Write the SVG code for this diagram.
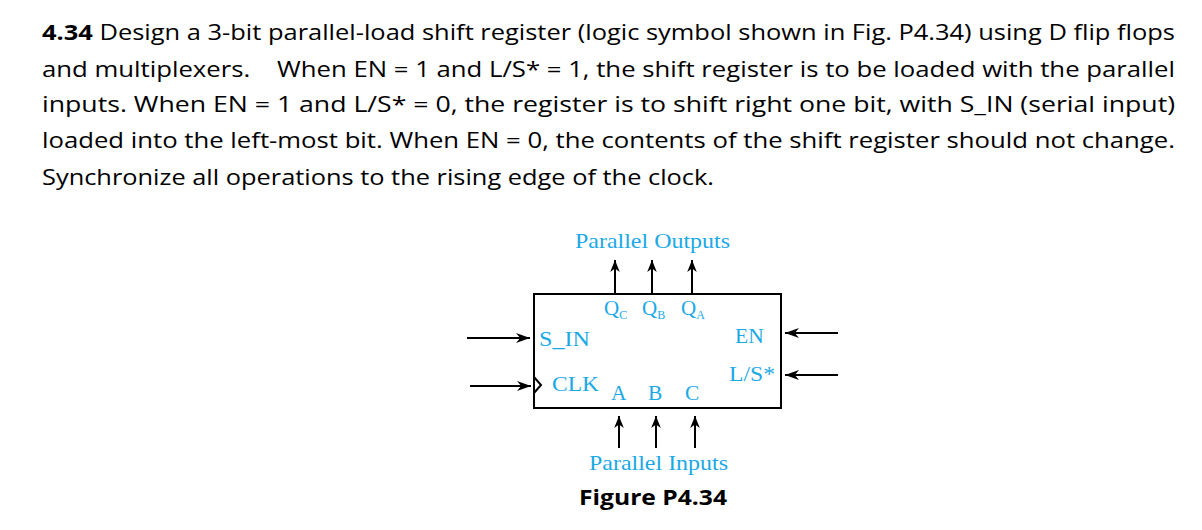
<svg xmlns="http://www.w3.org/2000/svg" width="1202" height="530" viewBox="0 0 1202 530">
<style>
.p{font-family:"Open Sans","Liberation Sans",sans-serif;font-size:22px;fill:#000}
.s{font-family:"Liberation Serif",serif;fill:#1ba9e6}
.w{stroke:#000;stroke-width:2;fill:none}
</style>
<defs><marker id="a" viewBox="0 0 10 10" refX="10" refY="5" markerWidth="12" markerHeight="12" markerUnits="userSpaceOnUse" orient="auto"><path d="M0,1L10,5L0,9L3,5Z" fill="#000"/></marker>
<marker id="b" viewBox="0 0 10 10" refX="10" refY="5" markerWidth="14" markerHeight="14" markerUnits="userSpaceOnUse" orient="auto"><path d="M0,1.5L10,5L0,8.5L3,5Z" fill="#000"/></marker></defs>
<rect width="1202" height="530" fill="#fff"/>
<g id="problem">
<text class="p" x="42" y="40" textLength="1133" lengthAdjust="spacingAndGlyphs"><tspan font-weight="bold">4.34</tspan> Design a 3-bit parallel-load shift register (logic symbol shown in Fig. P4.34) using D flip flops</text>
<text class="p" x="42" y="77" textLength="1133" lengthAdjust="spacingAndGlyphs" xml:space="preserve">and multiplexers.    When EN = 1 and L/S* = 1, the shift register is to be loaded with the parallel</text>
<text class="p" x="42" y="112" textLength="1133" lengthAdjust="spacingAndGlyphs">inputs. When EN = 1 and L/S* = 0, the register is to shift right one bit, with S_IN (serial input)</text>
<text class="p" x="42" y="148" textLength="1133" lengthAdjust="spacingAndGlyphs">loaded into the left-most bit. When EN = 0, the contents of the shift register should not change.</text>
<text class="p" x="42" y="185" textLength="672" lengthAdjust="spacingAndGlyphs">Synchronize all operations to the rising edge of the clock.</text>
</g>
<g id="register">
<rect x="534" y="294" width="247" height="114" class="w" stroke-width="2.5"/>
<path d="M534,377L541,385L534,393" class="w"/>
<text class="s" x="575" y="248" font-size="21.5" textLength="155" lengthAdjust="spacingAndGlyphs">Parallel Outputs</text>
<text class="s" x="604" y="315" font-size="21">Q<tspan font-size="12" dy="4">C</tspan></text>
<text class="s" x="642" y="315" font-size="21">Q<tspan font-size="12" dy="4">B</tspan></text>
<text class="s" x="681" y="315" font-size="21">Q<tspan font-size="12" dy="4">A</tspan></text>
<text class="s" x="539" y="346" font-size="21.5" textLength="51" lengthAdjust="spacingAndGlyphs">S_IN</text>
<text class="s" x="552" y="391" font-size="21.5" textLength="47" lengthAdjust="spacingAndGlyphs">CLK</text>
<text class="s" x="611" y="400" font-size="21.5">A</text>
<text class="s" x="648" y="400" font-size="21.5">B</text>
<text class="s" x="685" y="400" font-size="21.5">C</text>
<text class="s" x="735" y="343" font-size="21.5">EN</text>
<text class="s" x="729" y="381" font-size="20" textLength="46" lengthAdjust="spacingAndGlyphs">L/S*</text>
<text class="s" x="589" y="470" font-size="21.5" textLength="139" lengthAdjust="spacingAndGlyphs">Parallel Inputs</text>
<text x="579" y="505" font-family="'Open Sans','Liberation Sans',sans-serif" font-size="21" font-weight="bold" textLength="148" lengthAdjust="spacingAndGlyphs">Figure P4.34</text>
</g>
<g id="connectors" class="w">
<path d="M615,293V260" marker-end="url(#a)"/>
<path d="M652,293V260" marker-end="url(#a)"/>
<path d="M692,293V260" marker-end="url(#a)"/>
<path d="M619,448V416" marker-end="url(#a)"/>
<path d="M656,448V416" marker-end="url(#a)"/>
<path d="M695,448V416" marker-end="url(#a)"/>
<path d="M467,338H530" marker-end="url(#b)"/>
<path d="M470,386H531" marker-end="url(#b)"/>
<path d="M838,333H785" marker-end="url(#b)"/>
<path d="M838,375H785" marker-end="url(#b)"/>
</g>
</svg>
